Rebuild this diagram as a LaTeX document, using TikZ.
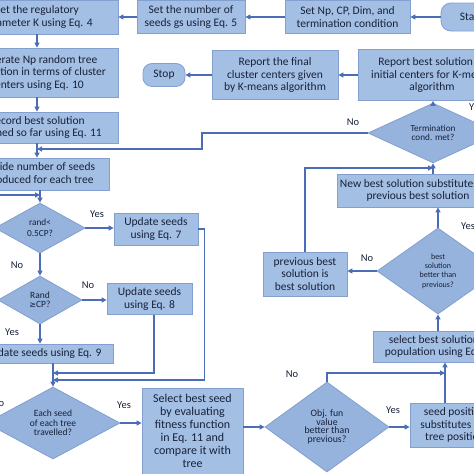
\documentclass[tikz,border=0pt]{standalone}
\usepackage{fontspec}
\setmainfont{Carlito}
\newfontfamily\symfnt{DejaVu Sans}
\usetikzlibrary{shapes.geometric,arrows.meta}
\definecolor{boxfill}{HTML}{A4BFE4}
\definecolor{dfill}{HTML}{95B3DC}
\definecolor{bdr}{HTML}{829FD0}
\definecolor{ln}{HTML}{4B6CB7}
\definecolor{txt}{HTML}{18223A}
\begin{document}
\begin{tikzpicture}[x=1pt,y=-1pt,
  box/.style={rectangle, draw=bdr, fill=boxfill, line width=0.8pt, text=txt, align=center, inner sep=0pt, font=\fontsize{11.5}{12.5}\selectfont},
  rbox/.style={box, rounded corners=10pt},
  dia/.style={diamond, draw=bdr, fill=dfill, line width=0.8pt, text=txt, align=center, inner sep=0pt},
  arr/.style={draw=ln, line width=1.2pt, -{Triangle[length=5pt,width=5pt]}},
  lbl/.style={text=txt, font=\fontsize{10.5}{12}\selectfont, inner sep=0pt}]
\useasboundingbox (0,0) rectangle (474,474);
\clip (0,0) rectangle (474,474);
\fill[white] (0,0) rectangle (474,474);

% top row
\node[box, minimum width=162, minimum height=34] (K) at (37,17) {Set the regulatory\\parameter K using Eq. 4};
\node[box, minimum width=108, minimum height=33] (Seeds) at (191,17) {Set the number of\\seeds gs using Eq. 5};
\node[box, minimum width=125, minimum height=33] (SetNp) at (347.5,17) {Set Np, CP, Dim, and\\termination condition};
\node[rbox, minimum width=60, minimum height=28] (Start) at (471,17) {Start};

\node[box, minimum width=162, minimum height=49] (Gen) at (37,72.5) {Generate Np random tree\\population in terms of cluster\\centers using Eq. 10};
\node[rbox, rounded corners=9pt, minimum width=42, minimum height=23] (Stop) at (164,75) {Stop};
\node[box, minimum width=126, minimum height=49] (RFinal) at (275,75) {Report the final\\cluster centers given\\by K-means algorithm};
\node[box, minimum width=148, minimum height=51] (RBest) at (432,75) {Report best solution as\\initial centers for K-means\\algorithm};

\node[box, minimum width=162, minimum height=31] (Record) at (37,127.5) {Record best solution\\obtained so far using Eq. 11};
\node[box, minimum width=138, minimum height=32] (Divide) at (40,174) {Divide number of seeds\\produced for each tree};

\node[dia, minimum width=130, minimum height=48, font=\fontsize{9.2}{8.5}\selectfont] (Term) at (433,133) {Termination\\cond. met?};
\node[box, minimum width=162, minimum height=33] (NewBest) at (418,190.5) {New best solution substitutes the\\previous best solution};
\node[dia, minimum width=122, minimum height=86, font=\fontsize{8}{9.3}\selectfont] (BestSol) at (438,271) {best\\solution\\better than\\previous?};
\node[box, minimum width=84, minimum height=44] (Prev) at (305,274) {previous best\\solution is\\best solution};
\node[box, minimum width=134, minimum height=31] (SelSol) at (440,346.5) {select best solution of\\population using Eq. 11};
\node[box, minimum width=90, minimum height=44] (SeedBox) at (455,425) {seed position\\substitutes the\\tree position};
\node[dia, minimum width=124, minimum height=90, font=\fontsize{9.8}{8.7}\selectfont] (Obj) at (327,427) {Obj. fun\\value\\better than\\previous?};
\node[box, minimum width=101, minimum height=86, font=\fontsize{12}{13}\selectfont] (SelSeed) at (192.5,431) {Select best seed\\by evaluating\\fitness function\\in Eq. 11 and\\compare it with\\tree};

\node[dia, minimum width=134, minimum height=70, font=\fontsize{9.5}{9.5}\selectfont] (Each) at (53,423) {Each seed\\of each tree\\travelled?};
\node[box, minimum width=140, minimum height=19] (Eq9) at (43,353.5) {Update seeds using Eq. 9};
\node[box, minimum width=84, minimum height=32] (Eq7) at (156,229) {Update seeds\\using Eq. 7};
\node[box, minimum width=85, minimum height=31] (Eq8) at (149.5,299) {Update seeds\\using Eq. 8};
\node[dia, minimum width=90, minimum height=50, font=\fontsize{9.3}{10.5}\selectfont] (Rand1) at (40,228) {rand<\\0.5CP?};
\node[dia, minimum width=84, minimum height=48, font=\fontsize{9.5}{9.3}\selectfont] (Rand2) at (40,300) {Rand\\{\symfnt\fontsize{8}{9}\selectfont ≥}CP?};

% helper coordinates
\coordinate (t1) at (202,149);
\coordinate (t2) at (37,149);
\coordinate (t3) at (-10,195);
\coordinate (j1) at (53,373);
\coordinate (j2) at (53,380);
\coordinate (j3) at (445,373);
\coordinate (j4) at (433,168);

% connectors
\draw[arr] (Start) -- (SetNp);
\draw[arr] (SetNp) -- (Seeds);
\draw[arr] (Seeds) -- (K);
\draw[arr] (K) -- (Gen);
\draw[arr] (Gen) -- (Record);
\draw[arr] (Record.south) -- (Record.south |- Divide.north);
\draw[arr] (Divide.south) -- (Rand1.north);
\draw[arr] (Rand1.east) -- (Rand1.east -| Eq7.west);
\draw[arr] (Rand1) -- (Rand2);
\draw[arr] (Rand2.east) -- (Rand2.east -| Eq8.west);
\draw[arr] (Rand2.south) -- (Rand2.south |- Eq9.north);
\draw[arr] (Eq9.south -| Each.north) -- (Each.north);
\draw[arr] ([xshift=4.5pt]Eq8.south) |- (j1);
\draw[arr] (Eq7.east) -- ++(6,0) |- (j2);
\draw[arr] (Each.east) -- (Each.east -| SelSeed.west);
\draw[arr] (SelSeed.east |- Obj.west) -- (Obj.west);
\draw[arr] (Obj.east) -- (Obj.east -| SeedBox.west);
\draw[arr] (Obj.north) |- (j3);
\draw[arr] ([xshift=-10pt]SeedBox.north) -- ([xshift=-10pt]SeedBox.north |- SelSol.south);
\draw[arr] (SelSol.north -| BestSol.south) -- (BestSol.south);
\draw[arr] (BestSol.west) -- (BestSol.west -| Prev.east);
\draw[arr] (BestSol.north) -- (BestSol.north |- NewBest.south);
\draw[arr] (Prev.north) |- (j4);
\draw[arr] (NewBest.north -| Term.south) -- (Term.south);
\draw[arr] (Term.north) -- (Term.north |- RBest.south);
\draw[arr] (RBest.west) -- (RBest.west -| RFinal.east);
\draw[arr] (RFinal.west) -- (RFinal.west -| Stop.east);
\draw[arr] (Term.west) -| (t1) -- (t2);
\draw[draw=ln, line width=1.2pt] (Each.west) -- ++(-30,0);
\draw[arr] (t3) -- (t3 -| Divide.south);

% labels
\node[lbl] (l1) at (353,122) {No};
\node[lbl, anchor=west] (l2) at (469,107) {Yes};
\node[lbl, anchor=west] (l3) at (461,226) {Yes};
\node[lbl] (l4) at (367,258) {No};
\node[lbl] (l5) at (292,374) {No};
\node[lbl] (l6) at (393,410) {Yes};
\node[lbl] (l7) at (124,405) {Yes};
\node[lbl] (l8) at (-2,403) {No};
\node[lbl] (l9) at (97,214) {Yes};
\node[lbl] (l10) at (17,265) {No};
\node[lbl] (l11) at (88,285) {No};
\node[lbl] (l12) at (12,332) {Yes};
\end{tikzpicture}
\end{document}
